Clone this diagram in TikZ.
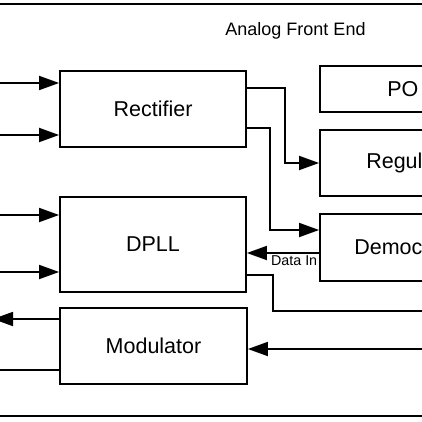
\documentclass[tikz,border=0pt]{standalone}
\usepackage{fontspec}
\setmainfont{Liberation Sans}
\usetikzlibrary{arrows.meta}

\tikzset{
  block/.style={draw, line width=1.8pt, minimum width=186pt, inner sep=0pt, font=\fontsize{21.5}{24}\selectfont},
  partbox/.style={draw, line width=1.8pt, minimum width=180pt, inner sep=0pt},
  partlabel/.style={anchor=west, inner sep=0pt, font=\fontsize{21.5}{24}\selectfont},
  sig/.style={line width=1.8pt},
  arr/.style={sig, -{Triangle[length=20pt,width=14pt]}}
}

\begin{document}
\begin{tikzpicture}[x=1pt,y=-1pt]
                \useasboundingbox (0,0) rectangle (422,422);
                \clip (0,0) rectangle (422,422);
                % frame and title
                \draw[sig] (-10,4) rectangle (440,416);
                \node[anchor=base, font=\fontsize{18}{20}\selectfont] (title) at (295.5,36) {Analog Front End};
                
                % digital blocks
                \node[block, minimum height=76pt] (rect) at (153,109) {Rectifier};
                \node[block, minimum height=95pt] (dpll) at (153,244.5) {DPLL};
                \node[block, minimum height=76pt, minimum width=187pt] (mod) at (153.5,346) {Modulator};
                
                % analog blocks, cut at the right edge
                \node[partbox, minimum height=46pt] (po) at (410,89) {};
                \node[partbox, minimum height=66pt] (reg) at (410,163) {};
                \node[partbox, minimum height=67pt] (demod) at (410,247.5) {};
                \node[partlabel] (polbl) at ([xshift=68pt]po.west) {PO};
                \node[partlabel] (reglbl) at ([xshift=47pt]reg.west) {Regul};
                \node[partlabel] (demodlbl) at ([xshift=35pt]demod.west) {Democ};
                
                % free ends
                \coordinate (rin1) at (-5,83);
                \coordinate (rin2) at (-5,135);
                \coordinate (din1) at (-5,215);
                \coordinate (din2) at (-5,272);
                \coordinate (mout) at (-7,319);
                \coordinate (mret) at (-5,370);
                \coordinate (min) at (430,349);
                \coordinate (dout) at (430,311);
                
                % inputs
                \draw[arr] (rin1) -- (rin1 -| rect.west);
                \draw[arr] (rin2) -- (rin2 -| rect.west);
                \draw[arr] (din1) -- (din1 -| dpll.west);
                \draw[arr] (din2) -- (din2 -| dpll.west);
                
                % rectifier to analog blocks
                \draw[arr] ([yshift=21pt]rect.east) -- ++(38,0) |- (reg.west);
                \draw[arr] ([yshift=-19pt]rect.east) -- ++(23,0) |- ([yshift=17.5pt]demod.west);
                
                % demodulator to DPLL
                \draw[arr] ([yshift=-5.5pt]demod.west) coordinate (dat) -- (dat -| dpll.east)
                    node[pos=0, anchor=north east, inner sep=1pt, yshift=-1pt, font=\fontsize{14.3}{16}\selectfont] (datlbl) {Data In};
                \draw[sig] ([yshift=-30.5pt]dpll.east) -- ++(26,0) |- (dout);
                
                % modulator
                \draw[arr] ([yshift=27pt]mod.west) -- (mout);
                \draw[sig] ([yshift=-24pt]mod.west) -- (mret);
                \draw[arr] (min) -- (min -| mod.east);
            \end{tikzpicture}
\end{document}
